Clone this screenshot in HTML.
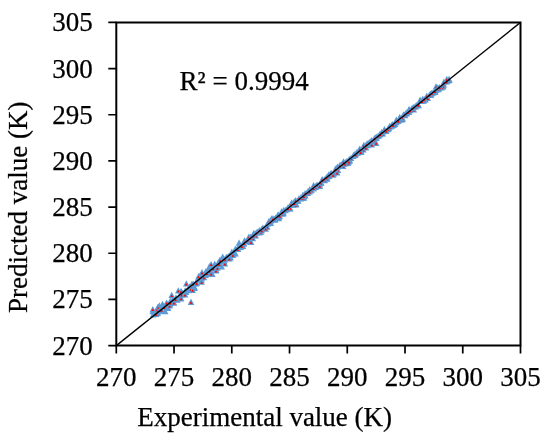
<!DOCTYPE html>
<html><head><meta charset="utf-8"><style>html,body{margin:0;padding:0;background:#fff;overflow:hidden}svg{display:block}</style></head>
<body><svg width="550" height="444" viewBox="0 0 550 444">
<rect width="550" height="444" fill="#fff"/>
<defs><filter id="b" x="-5%" y="-5%" width="110%" height="110%"><feGaussianBlur stdDeviation="0.35"/></filter></defs><g filter="url(#b)">
<path fill="#5b9bd5" d="M152.7 308.0L156.0 314.3L149.4 314.3Z"/>
<path fill="#5b9bd5" d="M153.1 311.1L156.4 317.4L149.8 317.4Z"/>
<path fill="#5b9bd5" d="M154.5 310.4L157.8 316.7L151.2 316.7Z"/>
<path fill="#5b9bd5" d="M155.0 310.6L158.3 316.9L151.7 316.9Z"/>
<path fill="#5b9bd5" d="M156.9 309.9L160.2 316.2L153.6 316.2Z"/>
<path fill="#5b9bd5" d="M158.0 309.4L161.3 315.7L154.7 315.7Z"/>
<path fill="#5b9bd5" d="M158.2 303.7L161.5 310.0L154.9 310.0Z"/>
<path fill="#5b9bd5" d="M159.4 302.3L162.7 308.6L156.1 308.6Z"/>
<path fill="#5b9bd5" d="M159.3 307.4L162.6 313.7L156.0 313.7Z"/>
<path fill="#5b9bd5" d="M161.0 307.7L164.3 314.0L157.7 314.0Z"/>
<path fill="#5b9bd5" d="M162.5 300.7L165.8 307.0L159.2 307.0Z"/>
<path fill="#5b9bd5" d="M163.7 303.1L167.0 309.4L160.4 309.4Z"/>
<path fill="#5b9bd5" d="M165.2 307.9L168.5 314.2L161.9 314.2Z"/>
<path fill="#5b9bd5" d="M165.7 301.7L169.0 308.0L162.4 308.0Z"/>
<path fill="#5b9bd5" d="M167.2 300.9L170.5 307.2L163.9 307.2Z"/>
<path fill="#5b9bd5" d="M168.4 301.4L171.7 307.7L165.1 307.7Z"/>
<path fill="#5b9bd5" d="M168.0 304.6L171.3 310.9L164.7 310.9Z"/>
<path fill="#5b9bd5" d="M170.3 297.6L173.6 303.9L167.0 303.9Z"/>
<path fill="#5b9bd5" d="M170.0 300.9L173.3 307.2L166.7 307.2Z"/>
<path fill="#5b9bd5" d="M172.4 296.8L175.7 303.1L169.1 303.1Z"/>
<path fill="#5b9bd5" d="M173.5 298.6L176.8 304.9L170.2 304.9Z"/>
<path fill="#5b9bd5" d="M173.5 296.7L176.8 303.0L170.2 303.0Z"/>
<path fill="#5b9bd5" d="M175.5 295.5L178.8 301.8L172.2 301.8Z"/>
<path fill="#5b9bd5" d="M175.9 294.6L179.2 300.9L172.6 300.9Z"/>
<path fill="#5b9bd5" d="M176.2 294.9L179.5 301.2L172.9 301.2Z"/>
<path fill="#5b9bd5" d="M177.4 296.5L180.7 302.8L174.1 302.8Z"/>
<path fill="#5b9bd5" d="M179.8 291.9L183.1 298.2L176.5 298.2Z"/>
<path fill="#5b9bd5" d="M180.2 292.4L183.5 298.7L176.9 298.7Z"/>
<path fill="#5b9bd5" d="M182.5 289.8L185.8 296.1L179.2 296.1Z"/>
<path fill="#5b9bd5" d="M182.6 290.8L185.9 297.1L179.3 297.1Z"/>
<path fill="#5b9bd5" d="M185.2 287.3L188.5 293.6L181.9 293.6Z"/>
<path fill="#5b9bd5" d="M185.4 288.2L188.7 294.5L182.1 294.5Z"/>
<path fill="#5b9bd5" d="M186.0 288.7L189.3 295.0L182.7 295.0Z"/>
<path fill="#5b9bd5" d="M187.4 286.6L190.7 292.9L184.1 292.9Z"/>
<path fill="#5b9bd5" d="M188.8 286.9L192.1 293.2L185.5 293.2Z"/>
<path fill="#5b9bd5" d="M189.6 283.2L192.9 289.5L186.3 289.5Z"/>
<path fill="#5b9bd5" d="M190.5 286.7L193.8 293.0L187.2 293.0Z"/>
<path fill="#5b9bd5" d="M192.0 280.4L195.3 286.7L188.7 286.7Z"/>
<path fill="#5b9bd5" d="M193.8 283.2L197.1 289.5L190.5 289.5Z"/>
<path fill="#5b9bd5" d="M194.3 284.6L197.6 290.9L191.0 290.9Z"/>
<path fill="#5b9bd5" d="M194.7 284.1L198.0 290.4L191.4 290.4Z"/>
<path fill="#5b9bd5" d="M196.0 280.2L199.3 286.5L192.7 286.5Z"/>
<path fill="#5b9bd5" d="M197.3 276.2L200.6 282.5L194.0 282.5Z"/>
<path fill="#5b9bd5" d="M198.5 275.6L201.8 281.9L195.2 281.9Z"/>
<path fill="#5b9bd5" d="M200.2 272.0L203.5 278.3L196.9 278.3Z"/>
<path fill="#5b9bd5" d="M201.5 273.7L204.8 280.0L198.2 280.0Z"/>
<path fill="#5b9bd5" d="M201.6 276.4L204.9 282.7L198.3 282.7Z"/>
<path fill="#5b9bd5" d="M201.8 274.3L205.1 280.6L198.5 280.6Z"/>
<path fill="#5b9bd5" d="M203.1 272.3L206.4 278.6L199.8 278.6Z"/>
<path fill="#5b9bd5" d="M205.6 271.6L208.9 277.9L202.3 277.9Z"/>
<path fill="#5b9bd5" d="M205.5 270.1L208.8 276.4L202.2 276.4Z"/>
<path fill="#5b9bd5" d="M205.9 267.9L209.2 274.2L202.6 274.2Z"/>
<path fill="#5b9bd5" d="M207.4 267.7L210.7 274.0L204.1 274.0Z"/>
<path fill="#5b9bd5" d="M209.4 263.1L212.7 269.4L206.1 269.4Z"/>
<path fill="#5b9bd5" d="M210.1 263.8L213.4 270.1L206.8 270.1Z"/>
<path fill="#5b9bd5" d="M212.3 270.7L215.6 277.0L209.0 277.0Z"/>
<path fill="#5b9bd5" d="M213.9 265.0L217.2 271.3L210.6 271.3Z"/>
<path fill="#5b9bd5" d="M214.7 260.6L218.0 266.9L211.4 266.9Z"/>
<path fill="#5b9bd5" d="M216.1 266.6L219.4 272.9L212.8 272.9Z"/>
<path fill="#5b9bd5" d="M218.2 259.3L221.5 265.6L214.9 265.6Z"/>
<path fill="#5b9bd5" d="M218.9 259.4L222.2 265.7L215.6 265.7Z"/>
<path fill="#5b9bd5" d="M219.3 258.5L222.6 264.8L216.0 264.8Z"/>
<path fill="#5b9bd5" d="M221.6 263.2L224.9 269.5L218.3 269.5Z"/>
<path fill="#5b9bd5" d="M222.6 258.0L225.9 264.3L219.3 264.3Z"/>
<path fill="#5b9bd5" d="M222.7 253.4L226.0 259.7L219.4 259.7Z"/>
<path fill="#5b9bd5" d="M224.0 257.7L227.3 264.0L220.7 264.0Z"/>
<path fill="#5b9bd5" d="M226.3 253.7L229.6 260.0L223.0 260.0Z"/>
<path fill="#5b9bd5" d="M227.2 254.5L230.5 260.8L223.9 260.8Z"/>
<path fill="#5b9bd5" d="M228.2 253.1L231.5 259.4L224.9 259.4Z"/>
<path fill="#5b9bd5" d="M229.4 252.4L232.7 258.7L226.1 258.7Z"/>
<path fill="#5b9bd5" d="M230.5 254.2L233.8 260.5L227.2 260.5Z"/>
<path fill="#5b9bd5" d="M231.8 248.5L235.1 254.8L228.5 254.8Z"/>
<path fill="#5b9bd5" d="M233.9 250.0L237.2 256.3L230.6 256.3Z"/>
<path fill="#5b9bd5" d="M235.5 250.3L238.8 256.6L232.2 256.6Z"/>
<path fill="#5b9bd5" d="M235.3 245.6L238.6 251.9L232.0 251.9Z"/>
<path fill="#5b9bd5" d="M237.5 245.5L240.8 251.8L234.2 251.8Z"/>
<path fill="#5b9bd5" d="M238.0 244.0L241.3 250.3L234.7 250.3Z"/>
<path fill="#5b9bd5" d="M239.1 239.4L242.4 245.7L235.8 245.7Z"/>
<path fill="#5b9bd5" d="M152.8 305.9L156.1 312.2L149.5 312.2Z"/><path fill="#ff0000" d="M152.8 308.6L154.2 311.1L151.4 311.1Z"/>
<path fill="#5b9bd5" d="M157.9 303.7L161.2 310.0L154.6 310.0Z"/><path fill="#ff0000" d="M157.9 306.4L159.3 308.9L156.5 308.9Z"/>
<path fill="#5b9bd5" d="M156.8 306.6L160.1 312.9L153.5 312.9Z"/><path fill="#ff0000" d="M156.8 309.3L158.2 311.8L155.4 311.8Z"/>
<path fill="#5b9bd5" d="M161.5 306.6L164.8 312.9L158.2 312.9Z"/><path fill="#ff0000" d="M161.5 309.3L162.9 311.8L160.1 311.8Z"/>
<path fill="#5b9bd5" d="M156.1 310.6L159.4 316.9L152.8 316.9Z"/><path fill="#ff0000" d="M156.1 313.3L157.5 315.8L154.7 315.8Z"/>
<path fill="#5b9bd5" d="M166.6 299.4L169.9 305.7L163.3 305.7Z"/><path fill="#ff0000" d="M166.6 302.1L168.0 304.6L165.2 304.6Z"/>
<path fill="#5b9bd5" d="M164.1 303.7L167.4 310.0L160.8 310.0Z"/><path fill="#ff0000" d="M164.1 306.4L165.5 308.9L162.7 308.9Z"/>
<path fill="#5b9bd5" d="M169.5 302.3L172.8 308.6L166.2 308.6Z"/><path fill="#ff0000" d="M169.5 305.0L170.9 307.5L168.1 307.5Z"/>
<path fill="#5b9bd5" d="M170.3 299.4L173.6 305.7L167.0 305.7Z"/><path fill="#ff0000" d="M170.3 302.1L171.7 304.6L168.9 304.6Z"/>
<path fill="#5b9bd5" d="M171.7 291.7L175.0 298.0L168.4 298.0Z"/><path fill="#ff0000" d="M171.7 294.4L173.1 296.9L170.3 296.9Z"/>
<path fill="#5b9bd5" d="M173.9 299.4L177.2 305.7L170.6 305.7Z"/><path fill="#ff0000" d="M173.9 302.1L175.3 304.6L172.5 304.6Z"/>
<path fill="#5b9bd5" d="M175.5 295.7L178.8 302.0L172.2 302.0Z"/><path fill="#ff0000" d="M175.5 298.4L176.9 300.9L174.1 300.9Z"/>
<path fill="#5b9bd5" d="M178.3 287.3L181.6 293.6L175.0 293.6Z"/><path fill="#ff0000" d="M178.3 290.0L179.7 292.5L176.9 292.5Z"/>
<path fill="#5b9bd5" d="M181.1 287.8L184.4 294.1L177.8 294.1Z"/><path fill="#ff0000" d="M181.1 290.5L182.5 293.0L179.7 293.0Z"/>
<path fill="#5b9bd5" d="M181.1 295.1L184.4 301.4L177.8 301.4Z"/><path fill="#ff0000" d="M181.1 297.8L182.5 300.3L179.7 300.3Z"/>
<path fill="#5b9bd5" d="M181.7 291.2L185.0 297.5L178.4 297.5Z"/><path fill="#ff0000" d="M181.7 293.9L183.1 296.4L180.3 296.4Z"/>
<path fill="#5b9bd5" d="M185.0 291.2L188.3 297.5L181.7 297.5Z"/><path fill="#ff0000" d="M185.0 293.9L186.4 296.4L183.6 296.4Z"/>
<path fill="#5b9bd5" d="M191.0 298.6L194.3 304.9L187.7 304.9Z"/><path fill="#ff0000" d="M191.0 301.3L192.4 303.8L189.6 303.8Z"/>
<path fill="#5b9bd5" d="M191.7 283.4L195.0 289.7L188.4 289.7Z"/><path fill="#ff0000" d="M191.7 286.1L193.1 288.6L190.3 288.6Z"/>
<path fill="#5b9bd5" d="M193.5 280.7L196.8 287.0L190.2 287.0Z"/><path fill="#ff0000" d="M193.5 283.4L194.9 285.9L192.1 285.9Z"/>
<path fill="#5b9bd5" d="M196.7 279.8L200.0 286.1L193.4 286.1Z"/><path fill="#ff0000" d="M196.7 282.5L198.1 285.0L195.3 285.0Z"/>
<path fill="#5b9bd5" d="M198.5 273.1L201.8 279.4L195.2 279.4Z"/><path fill="#ff0000" d="M198.5 275.8L199.9 278.3L197.1 278.3Z"/>
<path fill="#5b9bd5" d="M202.0 269.0L205.3 275.3L198.7 275.3Z"/><path fill="#ff0000" d="M202.0 271.7L203.4 274.2L200.6 274.2Z"/>
<path fill="#5b9bd5" d="M203.9 274.0L207.2 280.3L200.6 280.3Z"/><path fill="#ff0000" d="M203.9 276.7L205.3 279.2L202.5 279.2Z"/>
<path fill="#5b9bd5" d="M201.6 278.5L204.9 284.8L198.3 284.8Z"/><path fill="#ff0000" d="M201.6 281.2L203.0 283.7L200.2 283.7Z"/>
<path fill="#5b9bd5" d="M207.0 269.9L210.3 276.2L203.7 276.2Z"/><path fill="#ff0000" d="M207.0 272.6L208.4 275.1L205.6 275.1Z"/>
<path fill="#5b9bd5" d="M210.2 267.7L213.5 274.0L206.9 274.0Z"/><path fill="#ff0000" d="M210.2 270.4L211.6 272.9L208.8 272.9Z"/>
<path fill="#5b9bd5" d="M211.1 270.4L214.4 276.7L207.8 276.7Z"/><path fill="#ff0000" d="M211.1 273.1L212.5 275.6L209.7 275.6Z"/>
<path fill="#5b9bd5" d="M211.1 260.9L214.4 267.2L207.8 267.2Z"/><path fill="#ff0000" d="M211.1 263.6L212.5 266.1L209.7 266.1Z"/>
<path fill="#5b9bd5" d="M213.3 265.0L216.6 271.3L210.0 271.3Z"/><path fill="#ff0000" d="M213.3 267.7L214.7 270.2L211.9 270.2Z"/>
<path fill="#5b9bd5" d="M216.0 267.2L219.3 273.5L212.7 273.5Z"/><path fill="#ff0000" d="M216.0 269.9L217.4 272.4L214.6 272.4Z"/>
<path fill="#5b9bd5" d="M217.4 264.5L220.7 270.8L214.1 270.8Z"/><path fill="#ff0000" d="M217.4 267.2L218.8 269.7L216.0 269.7Z"/>
<path fill="#5b9bd5" d="M219.2 260.9L222.5 267.2L215.9 267.2Z"/><path fill="#ff0000" d="M219.2 263.6L220.6 266.1L217.8 266.1Z"/>
<path fill="#5b9bd5" d="M186.3 280.3L189.6 286.6L183.0 286.6Z"/><path fill="#ff0000" d="M186.3 283.0L187.7 285.5L184.9 285.5Z"/>
<path fill="#5b9bd5" d="M190.8 285.7L194.1 292.0L187.5 292.0Z"/><path fill="#ff0000" d="M190.8 288.4L192.2 290.9L189.4 290.9Z"/>
<path fill="#5b9bd5" d="M192.6 286.6L195.9 292.9L189.3 292.9Z"/><path fill="#ff0000" d="M192.6 289.3L194.0 291.8L191.2 291.8Z"/>
<path fill="#5b9bd5" d="M220.0 256.6L223.3 262.9L216.7 262.9Z"/><path fill="#ff0000" d="M220.0 259.3L221.4 261.8L218.6 261.8Z"/>
<path fill="#5b9bd5" d="M224.9 256.1L228.2 262.4L221.6 262.4Z"/><path fill="#ff0000" d="M224.9 258.8L226.3 261.3L223.5 261.3Z"/>
<path fill="#5b9bd5" d="M224.9 260.2L228.2 266.5L221.6 266.5Z"/><path fill="#ff0000" d="M224.9 262.9L226.3 265.4L223.5 265.4Z"/>
<path fill="#5b9bd5" d="M229.4 255.2L232.7 261.5L226.1 261.5Z"/><path fill="#ff0000" d="M229.4 257.9L230.8 260.4L228.0 260.4Z"/>
<path fill="#5b9bd5" d="M233.0 251.6L236.3 257.9L229.7 257.9Z"/><path fill="#ff0000" d="M233.0 254.3L234.4 256.8L231.6 256.8Z"/>
<path fill="#5b9bd5" d="M238.0 245.8L241.3 252.1L234.7 252.1Z"/><path fill="#ff0000" d="M238.0 248.5L239.4 251.0L236.6 251.0Z"/>
<path fill="#5b9bd5" d="M426.8 92.4L430.1 98.7L423.5 98.7Z"/><path fill="#ff0000" d="M426.8 95.1L428.2 97.6L425.4 97.6Z"/>
<path fill="#5b9bd5" d="M406.2 109.2L409.5 115.5L402.9 115.5Z"/><path fill="#ff0000" d="M406.2 111.9L407.6 114.4L404.8 114.4Z"/>
<path fill="#5b9bd5" d="M392.1 122.5L395.4 128.8L388.8 128.8Z"/><path fill="#ff0000" d="M392.1 125.2L393.5 127.7L390.7 127.7Z"/>
<path fill="#5b9bd5" d="M393.6 121.8L396.9 128.1L390.3 128.1Z"/><path fill="#ff0000" d="M393.6 124.5L395.0 127.0L392.2 127.0Z"/>
<path fill="#5b9bd5" d="M347.8 157.9L351.1 164.2L344.5 164.2Z"/><path fill="#ff0000" d="M347.8 160.6L349.2 163.1L346.4 163.1Z"/>
<path fill="#5b9bd5" d="M414.0 103.5L417.3 109.8L410.7 109.8Z"/><path fill="#ff0000" d="M414.0 106.2L415.4 108.7L412.6 108.7Z"/>
<path fill="#5b9bd5" d="M300.9 194.3L304.2 200.6L297.6 200.6Z"/><path fill="#ff0000" d="M300.9 197.0L302.3 199.5L299.5 199.5Z"/>
<path fill="#5b9bd5" d="M309.8 185.9L313.1 192.2L306.5 192.2Z"/><path fill="#ff0000" d="M309.8 188.6L311.2 191.1L308.4 191.1Z"/>
<path fill="#5b9bd5" d="M357.6 149.4L360.9 155.7L354.3 155.7Z"/><path fill="#ff0000" d="M357.6 152.1L359.0 154.6L356.2 154.6Z"/>
<path fill="#5b9bd5" d="M292.7 200.8L296.0 207.1L289.4 207.1Z"/><path fill="#ff0000" d="M292.7 203.5L294.1 206.0L291.3 206.0Z"/>
<path fill="#5b9bd5" d="M423.6 97.5L426.9 103.8L420.3 103.8Z"/><path fill="#ff0000" d="M423.6 100.2L425.0 102.7L422.2 102.7Z"/>
<path fill="#5b9bd5" d="M278.8 214.9L282.1 221.2L275.5 221.2Z"/><path fill="#ff0000" d="M278.8 217.6L280.2 220.1L277.4 220.1Z"/>
<path fill="#5b9bd5" d="M425.4 96.1L428.7 102.4L422.1 102.4Z"/><path fill="#ff0000" d="M425.4 98.8L426.8 101.3L424.0 101.3Z"/>
<path fill="#5b9bd5" d="M251.8 233.4L255.1 239.7L248.5 239.7Z"/><path fill="#ff0000" d="M251.8 236.1L253.2 238.6L250.4 238.6Z"/>
<path fill="#5b9bd5" d="M384.4 126.1L387.7 132.4L381.1 132.4Z"/><path fill="#ff0000" d="M384.4 128.8L385.8 131.3L383.0 131.3Z"/>
<path fill="#5b9bd5" d="M319.5 181.9L322.8 188.2L316.2 188.2Z"/><path fill="#ff0000" d="M319.5 184.6L320.9 187.1L318.1 187.1Z"/>
<path fill="#5b9bd5" d="M403.5 111.2L406.8 117.5L400.2 117.5Z"/><path fill="#ff0000" d="M403.5 113.9L404.9 116.4L402.1 116.4Z"/>
<path fill="#5b9bd5" d="M367.5 142.0L370.8 148.3L364.2 148.3Z"/><path fill="#ff0000" d="M367.5 144.7L368.9 147.2L366.1 147.2Z"/>
<path fill="#5b9bd5" d="M340.5 161.8L343.8 168.1L337.2 168.1Z"/><path fill="#ff0000" d="M340.5 164.5L341.9 167.0L339.1 167.0Z"/>
<path fill="#5b9bd5" d="M266.2 223.0L269.5 229.3L262.9 229.3Z"/><path fill="#ff0000" d="M266.2 225.7L267.6 228.2L264.8 228.2Z"/>
<path fill="#5b9bd5" d="M396.5 117.8L399.8 124.1L393.2 124.1Z"/><path fill="#ff0000" d="M396.5 120.5L397.9 123.0L395.1 123.0Z"/>
<path fill="#5b9bd5" d="M283.8 206.8L287.1 213.1L280.5 213.1Z"/><path fill="#ff0000" d="M283.8 209.5L285.2 212.0L282.4 212.0Z"/>
<path fill="#5b9bd5" d="M361.4 148.3L364.7 154.6L358.1 154.6Z"/><path fill="#ff0000" d="M361.4 151.0L362.8 153.5L360.0 153.5Z"/>
<path fill="#5b9bd5" d="M430.8 91.7L434.1 98.0L427.5 98.0Z"/><path fill="#ff0000" d="M430.8 94.4L432.2 96.9L429.4 96.9Z"/>
<path fill="#5b9bd5" d="M449.4 76.8L452.7 83.1L446.1 83.1Z"/><path fill="#ff0000" d="M449.4 79.5L450.8 82.0L448.0 82.0Z"/>
<path fill="#5b9bd5" d="M448.3 77.3L451.6 83.6L445.0 83.6Z"/><path fill="#ff0000" d="M448.3 80.0L449.7 82.5L446.9 82.5Z"/>
<path fill="#5b9bd5" d="M376.5 134.8L379.8 141.1L373.2 141.1Z"/><path fill="#ff0000" d="M376.5 137.5L377.9 140.0L375.1 140.0Z"/>
<path fill="#5b9bd5" d="M412.6 105.6L415.9 111.9L409.3 111.9Z"/><path fill="#ff0000" d="M412.6 108.3L414.0 110.8L411.2 110.8Z"/>
<path fill="#5b9bd5" d="M327.2 175.5L330.5 181.8L323.9 181.8Z"/><path fill="#ff0000" d="M327.2 178.2L328.6 180.7L325.8 180.7Z"/>
<path fill="#5b9bd5" d="M337.5 163.5L340.8 169.8L334.2 169.8Z"/><path fill="#ff0000" d="M337.5 166.2L338.9 168.7L336.1 168.7Z"/>
<path fill="#5b9bd5" d="M283.2 208.4L286.5 214.7L279.9 214.7Z"/><path fill="#ff0000" d="M283.2 211.1L284.6 213.6L281.8 213.6Z"/>
<path fill="#5b9bd5" d="M365.3 143.0L368.6 149.3L362.0 149.3Z"/><path fill="#ff0000" d="M365.3 145.7L366.7 148.2L363.9 148.2Z"/>
<path fill="#5b9bd5" d="M262.9 224.4L266.2 230.7L259.6 230.7Z"/><path fill="#ff0000" d="M262.9 227.1L264.3 229.6L261.5 229.6Z"/>
<path fill="#5b9bd5" d="M442.8 81.2L446.1 87.5L439.5 87.5Z"/><path fill="#ff0000" d="M442.8 83.9L444.2 86.4L441.4 86.4Z"/>
<path fill="#5b9bd5" d="M383.7 128.0L387.0 134.3L380.4 134.3Z"/><path fill="#ff0000" d="M383.7 130.7L385.1 133.2L382.3 133.2Z"/>
<path fill="#5b9bd5" d="M409.1 105.8L412.4 112.1L405.8 112.1Z"/><path fill="#ff0000" d="M409.1 108.5L410.5 111.0L407.7 111.0Z"/>
<path fill="#5b9bd5" d="M335.7 166.2L339.0 172.5L332.4 172.5Z"/><path fill="#ff0000" d="M335.7 168.9L337.1 171.4L334.3 171.4Z"/>
<path fill="#5b9bd5" d="M315.5 183.0L318.8 189.3L312.2 189.3Z"/><path fill="#ff0000" d="M315.5 185.7L316.9 188.2L314.1 188.2Z"/>
<path fill="#5b9bd5" d="M438.4 84.7L441.7 91.0L435.1 91.0Z"/><path fill="#ff0000" d="M438.4 87.4L439.8 89.9L437.0 89.9Z"/>
<path fill="#5b9bd5" d="M314.2 183.2L317.5 189.5L310.9 189.5Z"/><path fill="#ff0000" d="M314.2 185.9L315.6 188.4L312.8 188.4Z"/>
<path fill="#5b9bd5" d="M366.1 141.8L369.4 148.1L362.8 148.1Z"/><path fill="#ff0000" d="M366.1 144.5L367.5 147.0L364.7 147.0Z"/>
<path fill="#5b9bd5" d="M435.3 88.6L438.6 94.9L432.0 94.9Z"/><path fill="#ff0000" d="M435.3 91.3L436.7 93.8L433.9 93.8Z"/>
<path fill="#5b9bd5" d="M324.4 176.4L327.7 182.7L321.1 182.7Z"/><path fill="#ff0000" d="M324.4 179.1L325.8 181.6L323.0 181.6Z"/>
<path fill="#5b9bd5" d="M436.9 83.7L440.2 90.0L433.6 90.0Z"/><path fill="#ff0000" d="M436.9 86.4L438.3 88.9L435.5 88.9Z"/>
<path fill="#5b9bd5" d="M388.3 125.4L391.6 131.7L385.0 131.7Z"/><path fill="#ff0000" d="M388.3 128.1L389.7 130.6L386.9 130.6Z"/>
<path fill="#5b9bd5" d="M345.2 160.0L348.5 166.3L341.9 166.3Z"/><path fill="#ff0000" d="M345.2 162.7L346.6 165.2L343.8 165.2Z"/>
<path fill="#5b9bd5" d="M331.6 169.9L334.9 176.2L328.3 176.2Z"/><path fill="#ff0000" d="M331.6 172.6L333.0 175.1L330.2 175.1Z"/>
<path fill="#5b9bd5" d="M311.5 186.9L314.8 193.2L308.2 193.2Z"/><path fill="#ff0000" d="M311.5 189.6L312.9 192.1L310.1 192.1Z"/>
<path fill="#5b9bd5" d="M331.5 170.7L334.8 177.0L328.2 177.0Z"/><path fill="#ff0000" d="M331.5 173.4L332.9 175.9L330.1 175.9Z"/>
<path fill="#5b9bd5" d="M295.7 199.8L299.0 206.1L292.4 206.1Z"/><path fill="#ff0000" d="M295.7 202.5L297.1 205.0L294.3 205.0Z"/>
<path fill="#5b9bd5" d="M416.2 101.9L419.5 108.2L412.9 108.2Z"/><path fill="#ff0000" d="M416.2 104.6L417.6 107.1L414.8 107.1Z"/>
<path fill="#5b9bd5" d="M343.1 162.6L346.4 168.9L339.8 168.9Z"/><path fill="#ff0000" d="M343.1 165.3L344.5 167.8L341.7 167.8Z"/>
<path fill="#5b9bd5" d="M313.4 184.9L316.7 191.2L310.1 191.2Z"/><path fill="#ff0000" d="M313.4 187.6L314.8 190.1L312.0 190.1Z"/>
<path fill="#5b9bd5" d="M249.2 235.2L252.5 241.5L245.9 241.5Z"/><path fill="#ff0000" d="M249.2 237.9L250.6 240.4L247.8 240.4Z"/>
<path fill="#5b9bd5" d="M316.6 182.0L319.9 188.3L313.3 188.3Z"/><path fill="#ff0000" d="M316.6 184.7L318.0 187.2L315.2 187.2Z"/>
<path fill="#5b9bd5" d="M315.8 183.7L319.1 190.0L312.5 190.0Z"/><path fill="#ff0000" d="M315.8 186.4L317.2 188.9L314.4 188.9Z"/>
<path fill="#5b9bd5" d="M443.8 81.3L447.1 87.6L440.5 87.6Z"/><path fill="#ff0000" d="M443.8 84.0L445.2 86.5L442.4 86.5Z"/>
<path fill="#5b9bd5" d="M367.5 140.3L370.8 146.6L364.2 146.6Z"/><path fill="#ff0000" d="M367.5 143.0L368.9 145.5L366.1 145.5Z"/>
<path fill="#5b9bd5" d="M291.8 199.2L295.1 205.5L288.5 205.5Z"/><path fill="#ff0000" d="M291.8 201.9L293.2 204.4L290.4 204.4Z"/>
<path fill="#5b9bd5" d="M363.3 146.2L366.6 152.5L360.0 152.5Z"/><path fill="#ff0000" d="M363.3 148.9L364.7 151.4L361.9 151.4Z"/>
<path fill="#5b9bd5" d="M283.5 210.0L286.8 216.3L280.2 216.3Z"/><path fill="#ff0000" d="M283.5 212.7L284.9 215.2L282.1 215.2Z"/>
<path fill="#5b9bd5" d="M349.9 157.2L353.2 163.5L346.6 163.5Z"/><path fill="#ff0000" d="M349.9 159.9L351.3 162.4L348.5 162.4Z"/>
<path fill="#5b9bd5" d="M343.9 159.3L347.2 165.6L340.6 165.6Z"/><path fill="#ff0000" d="M343.9 162.0L345.3 164.5L342.5 164.5Z"/>
<path fill="#5b9bd5" d="M328.8 171.2L332.1 177.5L325.5 177.5Z"/><path fill="#ff0000" d="M328.8 173.9L330.2 176.4L327.4 176.4Z"/>
<path fill="#5b9bd5" d="M244.5 237.3L247.8 243.6L241.2 243.6Z"/><path fill="#ff0000" d="M244.5 240.0L245.9 242.5L243.1 242.5Z"/>
<path fill="#5b9bd5" d="M388.9 124.6L392.2 130.9L385.6 130.9Z"/><path fill="#ff0000" d="M388.9 127.3L390.3 129.8L387.5 129.8Z"/>
<path fill="#5b9bd5" d="M308.1 187.8L311.4 194.1L304.8 194.1Z"/><path fill="#ff0000" d="M308.1 190.5L309.5 193.0L306.7 193.0Z"/>
<path fill="#5b9bd5" d="M359.7 145.5L363.0 151.8L356.4 151.8Z"/><path fill="#ff0000" d="M359.7 148.2L361.1 150.7L358.3 150.7Z"/>
<path fill="#5b9bd5" d="M368.8 139.8L372.1 146.1L365.5 146.1Z"/><path fill="#ff0000" d="M368.8 142.5L370.2 145.0L367.4 145.0Z"/>
<path fill="#5b9bd5" d="M444.0 78.4L447.3 84.7L440.7 84.7Z"/><path fill="#ff0000" d="M444.0 81.1L445.4 83.6L442.6 83.6Z"/>
<path fill="#5b9bd5" d="M267.6 220.4L270.9 226.7L264.3 226.7Z"/><path fill="#ff0000" d="M267.6 223.1L269.0 225.6L266.2 225.6Z"/>
<path fill="#5b9bd5" d="M371.7 137.7L375.0 144.0L368.4 144.0Z"/><path fill="#ff0000" d="M371.7 140.4L373.1 142.9L370.3 142.9Z"/>
<path fill="#5b9bd5" d="M351.0 154.7L354.3 161.0L347.7 161.0Z"/><path fill="#ff0000" d="M351.0 157.4L352.4 159.9L349.6 159.9Z"/>
<path fill="#5b9bd5" d="M392.2 120.9L395.5 127.2L388.9 127.2Z"/><path fill="#ff0000" d="M392.2 123.6L393.6 126.1L390.8 126.1Z"/>
<path fill="#5b9bd5" d="M304.0 194.5L307.3 200.8L300.7 200.8Z"/><path fill="#ff0000" d="M304.0 197.2L305.4 199.7L302.6 199.7Z"/>
<path fill="#5b9bd5" d="M430.4 90.4L433.7 96.7L427.1 96.7Z"/><path fill="#ff0000" d="M430.4 93.1L431.8 95.6L429.0 95.6Z"/>
<path fill="#5b9bd5" d="M381.8 129.9L385.1 136.2L378.5 136.2Z"/><path fill="#ff0000" d="M381.8 132.6L383.2 135.1L380.4 135.1Z"/>
<path fill="#5b9bd5" d="M356.9 149.1L360.2 155.4L353.6 155.4Z"/><path fill="#ff0000" d="M356.9 151.8L358.3 154.3L355.5 154.3Z"/>
<path fill="#5b9bd5" d="M250.3 233.6L253.6 239.9L247.0 239.9Z"/><path fill="#ff0000" d="M250.3 236.3L251.7 238.8L248.9 238.8Z"/>
<path fill="#5b9bd5" d="M357.4 148.9L360.7 155.2L354.1 155.2Z"/><path fill="#ff0000" d="M357.4 151.6L358.8 154.1L356.0 154.1Z"/>
<path fill="#5b9bd5" d="M418.3 101.9L421.6 108.2L415.0 108.2Z"/><path fill="#ff0000" d="M418.3 104.6L419.7 107.1L416.9 107.1Z"/>
<path fill="#5b9bd5" d="M370.2 138.1L373.5 144.4L366.9 144.4Z"/><path fill="#ff0000" d="M370.2 140.8L371.6 143.3L368.8 143.3Z"/>
<path fill="#5b9bd5" d="M415.7 103.3L419.0 109.6L412.4 109.6Z"/><path fill="#ff0000" d="M415.7 106.0L417.1 108.5L414.3 108.5Z"/>
<path fill="#5b9bd5" d="M319.5 180.7L322.8 187.0L316.2 187.0Z"/><path fill="#ff0000" d="M319.5 183.4L320.9 185.9L318.1 185.9Z"/>
<path fill="#5b9bd5" d="M261.7 225.7L265.0 232.0L258.4 232.0Z"/><path fill="#ff0000" d="M261.7 228.4L263.1 230.9L260.3 230.9Z"/>
<path fill="#5b9bd5" d="M436.0 83.2L439.3 89.5L432.7 89.5Z"/><path fill="#ff0000" d="M436.0 85.9L437.4 88.4L434.6 88.4Z"/>
<path fill="#5b9bd5" d="M306.8 189.8L310.1 196.1L303.5 196.1Z"/><path fill="#ff0000" d="M306.8 192.5L308.2 195.0L305.4 195.0Z"/>
<path fill="#5b9bd5" d="M313.5 182.1L316.8 188.4L310.2 188.4Z"/><path fill="#ff0000" d="M313.5 184.8L314.9 187.3L312.1 187.3Z"/>
<path fill="#5b9bd5" d="M264.8 224.8L268.1 231.1L261.5 231.1Z"/><path fill="#ff0000" d="M264.8 227.5L266.2 230.0L263.4 230.0Z"/>
<path fill="#5b9bd5" d="M436.2 86.7L439.5 93.0L432.9 93.0Z"/><path fill="#ff0000" d="M436.2 89.4L437.6 91.9L434.8 91.9Z"/>
<path fill="#5b9bd5" d="M396.3 116.6L399.6 122.9L393.0 122.9Z"/><path fill="#ff0000" d="M396.3 119.3L397.7 121.8L394.9 121.8Z"/>
<path fill="#5b9bd5" d="M373.8 137.3L377.1 143.6L370.5 143.6Z"/><path fill="#ff0000" d="M373.8 140.0L375.2 142.5L372.4 142.5Z"/>
<path fill="#5b9bd5" d="M420.1 96.6L423.4 102.9L416.8 102.9Z"/><path fill="#ff0000" d="M420.1 99.3L421.5 101.8L418.7 101.8Z"/>
<path fill="#5b9bd5" d="M330.5 170.2L333.8 176.5L327.2 176.5Z"/><path fill="#ff0000" d="M330.5 172.9L331.9 175.4L329.1 175.4Z"/>
<path fill="#5b9bd5" d="M343.4 160.2L346.7 166.5L340.1 166.5Z"/><path fill="#ff0000" d="M343.4 162.9L344.8 165.4L342.0 165.4Z"/>
<path fill="#5b9bd5" d="M396.4 119.0L399.7 125.3L393.1 125.3Z"/><path fill="#ff0000" d="M396.4 121.7L397.8 124.2L395.0 124.2Z"/>
<path fill="#5b9bd5" d="M246.2 237.9L249.5 244.2L242.9 244.2Z"/><path fill="#ff0000" d="M246.2 240.6L247.6 243.1L244.8 243.1Z"/>
<path fill="#5b9bd5" d="M375.4 134.3L378.7 140.6L372.1 140.6Z"/><path fill="#ff0000" d="M375.4 137.0L376.8 139.5L374.0 139.5Z"/>
<path fill="#5b9bd5" d="M293.2 201.5L296.5 207.8L289.9 207.8Z"/><path fill="#ff0000" d="M293.2 204.2L294.6 206.7L291.8 206.7Z"/>
<path fill="#5b9bd5" d="M259.5 229.3L262.8 235.6L256.2 235.6Z"/><path fill="#ff0000" d="M259.5 232.0L260.9 234.5L258.1 234.5Z"/>
<path fill="#5b9bd5" d="M288.1 204.1L291.4 210.4L284.8 210.4Z"/><path fill="#ff0000" d="M288.1 206.8L289.5 209.3L286.7 209.3Z"/>
<path fill="#5b9bd5" d="M300.9 195.3L304.2 201.6L297.6 201.6Z"/><path fill="#ff0000" d="M300.9 198.0L302.3 200.5L299.5 200.5Z"/>
<path fill="#5b9bd5" d="M240.3 243.6L243.6 249.9L237.0 249.9Z"/><path fill="#ff0000" d="M240.3 246.3L241.7 248.8L238.9 248.8Z"/>
<path fill="#5b9bd5" d="M294.3 198.1L297.6 204.4L291.0 204.4Z"/><path fill="#ff0000" d="M294.3 200.8L295.7 203.3L292.9 203.3Z"/>
<path fill="#5b9bd5" d="M422.8 95.5L426.1 101.8L419.5 101.8Z"/><path fill="#ff0000" d="M422.8 98.2L424.2 100.7L421.4 100.7Z"/>
<path fill="#5b9bd5" d="M371.8 137.0L375.1 143.3L368.5 143.3Z"/><path fill="#ff0000" d="M371.8 139.7L373.2 142.2L370.4 142.2Z"/>
<path fill="#5b9bd5" d="M296.1 201.2L299.4 207.5L292.8 207.5Z"/><path fill="#ff0000" d="M296.1 203.9L297.5 206.4L294.7 206.4Z"/>
<path fill="#5b9bd5" d="M353.3 152.6L356.6 158.9L350.0 158.9Z"/><path fill="#ff0000" d="M353.3 155.3L354.7 157.8L351.9 157.8Z"/>
<path fill="#5b9bd5" d="M271.6 215.3L274.9 221.6L268.3 221.6Z"/><path fill="#ff0000" d="M271.6 218.0L273.0 220.5L270.2 220.5Z"/>
<path fill="#5b9bd5" d="M285.2 206.9L288.5 213.2L281.9 213.2Z"/><path fill="#ff0000" d="M285.2 209.6L286.6 212.1L283.8 212.1Z"/>
<path fill="#5b9bd5" d="M305.2 192.1L308.5 198.4L301.9 198.4Z"/><path fill="#ff0000" d="M305.2 194.8L306.6 197.3L303.8 197.3Z"/>
<path fill="#5b9bd5" d="M298.2 197.5L301.5 203.8L294.9 203.8Z"/><path fill="#ff0000" d="M298.2 200.2L299.6 202.7L296.8 202.7Z"/>
<path fill="#5b9bd5" d="M405.0 112.0L408.3 118.3L401.7 118.3Z"/><path fill="#ff0000" d="M405.0 114.7L406.4 117.2L403.6 117.2Z"/>
<path fill="#5b9bd5" d="M269.0 217.8L272.3 224.1L265.7 224.1Z"/><path fill="#ff0000" d="M269.0 220.5L270.4 223.0L267.6 223.0Z"/>
<path fill="#5b9bd5" d="M360.7 147.4L364.0 153.7L357.4 153.7Z"/><path fill="#ff0000" d="M360.7 150.1L362.1 152.6L359.3 152.6Z"/>
<path fill="#5b9bd5" d="M333.9 170.3L337.2 176.6L330.6 176.6Z"/><path fill="#ff0000" d="M333.9 173.0L335.3 175.5L332.5 175.5Z"/>
<path fill="#5b9bd5" d="M247.7 236.3L251.0 242.6L244.4 242.6Z"/><path fill="#ff0000" d="M247.7 239.0L249.1 241.5L246.3 241.5Z"/>
<path fill="#5b9bd5" d="M270.0 219.3L273.3 225.6L266.7 225.6Z"/><path fill="#ff0000" d="M270.0 222.0L271.4 224.5L268.6 224.5Z"/>
<path fill="#5b9bd5" d="M322.9 176.8L326.2 183.1L319.6 183.1Z"/><path fill="#ff0000" d="M322.9 179.5L324.3 182.0L321.5 182.0Z"/>
<path fill="#5b9bd5" d="M401.1 116.1L404.4 122.4L397.8 122.4Z"/><path fill="#ff0000" d="M401.1 118.8L402.5 121.3L399.7 121.3Z"/>
<path fill="#5b9bd5" d="M313.5 184.9L316.8 191.2L310.2 191.2Z"/><path fill="#ff0000" d="M313.5 187.6L314.9 190.1L312.1 190.1Z"/>
<path fill="#5b9bd5" d="M402.6 116.0L405.9 122.3L399.3 122.3Z"/><path fill="#ff0000" d="M402.6 118.7L404.0 121.2L401.2 121.2Z"/>
<path fill="#5b9bd5" d="M302.4 194.6L305.7 200.9L299.1 200.9Z"/><path fill="#ff0000" d="M302.4 197.3L303.8 199.8L301.0 199.8Z"/>
<path fill="#5b9bd5" d="M333.1 171.5L336.4 177.8L329.8 177.8Z"/><path fill="#ff0000" d="M333.1 174.2L334.5 176.7L331.7 176.7Z"/>
<path fill="#5b9bd5" d="M355.1 150.5L358.4 156.8L351.8 156.8Z"/><path fill="#ff0000" d="M355.1 153.2L356.5 155.7L353.7 155.7Z"/>
<path fill="#5b9bd5" d="M346.2 158.1L349.5 164.4L342.9 164.4Z"/><path fill="#ff0000" d="M346.2 160.8L347.6 163.3L344.8 163.3Z"/>
<path fill="#5b9bd5" d="M376.1 139.6L379.4 145.9L372.8 145.9Z"/><path fill="#ff0000" d="M376.1 142.3L377.5 144.8L374.7 144.8Z"/>
<path fill="#5b9bd5" d="M433.3 89.2L436.6 95.5L430.0 95.5Z"/><path fill="#ff0000" d="M433.3 91.9L434.7 94.4L431.9 94.4Z"/>
<path fill="#5b9bd5" d="M308.0 189.4L311.3 195.7L304.7 195.7Z"/><path fill="#ff0000" d="M308.0 192.1L309.4 194.6L306.6 194.6Z"/>
<path fill="#5b9bd5" d="M294.3 199.8L297.6 206.1L291.0 206.1Z"/><path fill="#ff0000" d="M294.3 202.5L295.7 205.0L292.9 205.0Z"/>
<path fill="#5b9bd5" d="M270.7 219.8L274.0 226.1L267.4 226.1Z"/><path fill="#ff0000" d="M270.7 222.5L272.1 225.0L269.3 225.0Z"/>
<path fill="#5b9bd5" d="M254.0 230.2L257.3 236.5L250.7 236.5Z"/><path fill="#ff0000" d="M254.0 232.9L255.4 235.4L252.6 235.4Z"/>
<path fill="#5b9bd5" d="M275.6 214.4L278.9 220.7L272.3 220.7Z"/><path fill="#ff0000" d="M275.6 217.1L277.0 219.6L274.2 219.6Z"/>
<path fill="#5b9bd5" d="M321.3 179.4L324.6 185.7L318.0 185.7Z"/><path fill="#ff0000" d="M321.3 182.1L322.7 184.6L319.9 184.6Z"/>
<path fill="#5b9bd5" d="M360.7 148.8L364.0 155.1L357.4 155.1Z"/><path fill="#ff0000" d="M360.7 151.5L362.1 154.0L359.3 154.0Z"/>
<path fill="#5b9bd5" d="M243.8 240.5L247.1 246.8L240.5 246.8Z"/><path fill="#ff0000" d="M243.8 243.2L245.2 245.7L242.4 245.7Z"/>
<path fill="#5b9bd5" d="M320.6 179.5L323.9 185.8L317.3 185.8Z"/><path fill="#ff0000" d="M320.6 182.2L322.0 184.7L319.2 184.7Z"/>
<path fill="#5b9bd5" d="M431.4 90.1L434.7 96.4L428.1 96.4Z"/><path fill="#ff0000" d="M431.4 92.8L432.8 95.3L430.0 95.3Z"/>
<path fill="#5b9bd5" d="M317.8 181.6L321.1 187.9L314.5 187.9Z"/><path fill="#ff0000" d="M317.8 184.3L319.2 186.8L316.4 186.8Z"/>
<path fill="#5b9bd5" d="M270.1 218.9L273.4 225.2L266.8 225.2Z"/><path fill="#ff0000" d="M270.1 221.6L271.5 224.1L268.7 224.1Z"/>
<path fill="#5b9bd5" d="M303.0 191.5L306.3 197.8L299.7 197.8Z"/><path fill="#ff0000" d="M303.0 194.2L304.4 196.7L301.6 196.7Z"/>
<path fill="#5b9bd5" d="M240.8 243.8L244.1 250.1L237.5 250.1Z"/><path fill="#ff0000" d="M240.8 246.5L242.2 249.0L239.4 249.0Z"/>
<path fill="#5b9bd5" d="M329.2 172.7L332.5 179.0L325.9 179.0Z"/><path fill="#ff0000" d="M329.2 175.4L330.6 177.9L327.8 177.9Z"/>
<path fill="#5b9bd5" d="M377.1 133.0L380.4 139.3L373.8 139.3Z"/><path fill="#ff0000" d="M377.1 135.7L378.5 138.2L375.7 138.2Z"/>
<path fill="#5b9bd5" d="M413.8 106.3L417.1 112.6L410.5 112.6Z"/><path fill="#ff0000" d="M413.8 109.0L415.2 111.5L412.4 111.5Z"/>
<path fill="#5b9bd5" d="M275.2 216.2L278.5 222.5L271.9 222.5Z"/><path fill="#ff0000" d="M275.2 218.9L276.6 221.4L273.8 221.4Z"/>
<path fill="#5b9bd5" d="M299.0 194.9L302.3 201.2L295.7 201.2Z"/><path fill="#ff0000" d="M299.0 197.6L300.4 200.1L297.6 200.1Z"/>
<path fill="#5b9bd5" d="M248.8 233.6L252.1 239.9L245.5 239.9Z"/><path fill="#ff0000" d="M248.8 236.3L250.2 238.8L247.4 238.8Z"/>
<path fill="#5b9bd5" d="M336.2 164.9L339.5 171.2L332.9 171.2Z"/><path fill="#ff0000" d="M336.2 167.6L337.6 170.1L334.8 170.1Z"/>
<path fill="#5b9bd5" d="M278.1 211.3L281.4 217.6L274.8 217.6Z"/><path fill="#ff0000" d="M278.1 214.0L279.5 216.5L276.7 216.5Z"/>
<path fill="#5b9bd5" d="M274.4 216.0L277.7 222.3L271.1 222.3Z"/><path fill="#ff0000" d="M274.4 218.7L275.8 221.2L273.0 221.2Z"/>
<path fill="#5b9bd5" d="M290.8 201.1L294.1 207.4L287.5 207.4Z"/><path fill="#ff0000" d="M290.8 203.8L292.2 206.3L289.4 206.3Z"/>
<path fill="#5b9bd5" d="M327.5 173.2L330.8 179.5L324.2 179.5Z"/><path fill="#ff0000" d="M327.5 175.9L328.9 178.4L326.1 178.4Z"/>
<path fill="#5b9bd5" d="M252.8 235.0L256.1 241.3L249.5 241.3Z"/><path fill="#ff0000" d="M252.8 237.7L254.2 240.2L251.4 240.2Z"/>
<path fill="#5b9bd5" d="M286.3 206.2L289.6 212.5L283.0 212.5Z"/><path fill="#ff0000" d="M286.3 208.9L287.7 211.4L284.9 211.4Z"/>
<path fill="#5b9bd5" d="M446.7 78.2L450.0 84.5L443.4 84.5Z"/><path fill="#ff0000" d="M446.7 80.9L448.1 83.4L445.3 83.4Z"/>
<path fill="#5b9bd5" d="M374.4 135.0L377.7 141.3L371.1 141.3Z"/><path fill="#ff0000" d="M374.4 137.7L375.8 140.2L373.0 140.2Z"/>
<path fill="#5b9bd5" d="M449.0 75.8L452.3 82.1L445.7 82.1Z"/><path fill="#ff0000" d="M449.0 78.5L450.4 81.0L447.6 81.0Z"/>
<path fill="#5b9bd5" d="M282.4 210.4L285.7 216.7L279.1 216.7Z"/><path fill="#ff0000" d="M282.4 213.1L283.8 215.6L281.0 215.6Z"/>
<path fill="#5b9bd5" d="M378.9 132.5L382.2 138.8L375.6 138.8Z"/><path fill="#ff0000" d="M378.9 135.2L380.3 137.7L377.5 137.7Z"/>
<path fill="#5b9bd5" d="M424.5 96.1L427.8 102.4L421.2 102.4Z"/><path fill="#ff0000" d="M424.5 98.8L425.9 101.3L423.1 101.3Z"/>
<path fill="#5b9bd5" d="M353.7 151.8L357.0 158.1L350.4 158.1Z"/><path fill="#ff0000" d="M353.7 154.5L355.1 157.0L352.3 157.0Z"/>
<path fill="#5b9bd5" d="M386.0 127.8L389.3 134.1L382.7 134.1Z"/><path fill="#ff0000" d="M386.0 130.5L387.4 133.0L384.6 133.0Z"/>
<path fill="#5b9bd5" d="M387.7 125.9L391.0 132.2L384.4 132.2Z"/><path fill="#ff0000" d="M387.7 128.6L389.1 131.1L386.3 131.1Z"/>
<path fill="#5b9bd5" d="M309.7 188.3L313.0 194.6L306.4 194.6Z"/><path fill="#ff0000" d="M309.7 191.0L311.1 193.5L308.3 193.5Z"/>
<path fill="#5b9bd5" d="M257.5 228.5L260.8 234.8L254.2 234.8Z"/><path fill="#ff0000" d="M257.5 231.2L258.9 233.7L256.1 233.7Z"/>
<path fill="#5b9bd5" d="M271.1 217.1L274.4 223.4L267.8 223.4Z"/><path fill="#ff0000" d="M271.1 219.8L272.5 222.3L269.7 222.3Z"/>
<path fill="#5b9bd5" d="M259.4 226.9L262.7 233.2L256.1 233.2Z"/><path fill="#ff0000" d="M259.4 229.6L260.8 232.1L258.0 232.1Z"/>
<path fill="#5b9bd5" d="M379.8 130.9L383.1 137.2L376.5 137.2Z"/><path fill="#ff0000" d="M379.8 133.6L381.2 136.1L378.4 136.1Z"/>
<path fill="#5b9bd5" d="M267.3 223.5L270.6 229.8L264.0 229.8Z"/><path fill="#ff0000" d="M267.3 226.2L268.7 228.7L265.9 228.7Z"/>
<path fill="#5b9bd5" d="M342.2 160.5L345.5 166.8L338.9 166.8Z"/><path fill="#ff0000" d="M342.2 163.2L343.6 165.7L340.8 165.7Z"/>
<path fill="#5b9bd5" d="M395.1 120.6L398.4 126.9L391.8 126.9Z"/><path fill="#ff0000" d="M395.1 123.3L396.5 125.8L393.7 125.8Z"/>
<path fill="#5b9bd5" d="M339.8 162.0L343.1 168.3L336.5 168.3Z"/><path fill="#ff0000" d="M339.8 164.7L341.2 167.2L338.4 167.2Z"/>
<path fill="#5b9bd5" d="M343.5 158.3L346.8 164.6L340.2 164.6Z"/><path fill="#ff0000" d="M343.5 161.0L344.9 163.5L342.1 163.5Z"/>
<path fill="#5b9bd5" d="M255.7 232.3L259.0 238.6L252.4 238.6Z"/><path fill="#ff0000" d="M255.7 235.0L257.1 237.5L254.3 237.5Z"/>
<path fill="#5b9bd5" d="M265.7 225.4L269.0 231.7L262.4 231.7Z"/><path fill="#ff0000" d="M265.7 228.1L267.1 230.6L264.3 230.6Z"/>
<path fill="#5b9bd5" d="M288.7 205.0L292.0 211.3L285.4 211.3Z"/><path fill="#ff0000" d="M288.7 207.7L290.1 210.2L287.3 210.2Z"/>
<path fill="#5b9bd5" d="M246.5 238.2L249.8 244.5L243.2 244.5Z"/><path fill="#ff0000" d="M246.5 240.9L247.9 243.4L245.1 243.4Z"/>
<path fill="#5b9bd5" d="M354.9 151.8L358.2 158.1L351.6 158.1Z"/><path fill="#ff0000" d="M354.9 154.5L356.3 157.0L353.5 157.0Z"/>
<path fill="#5b9bd5" d="M404.6 111.4L407.9 117.7L401.3 117.7Z"/><path fill="#ff0000" d="M404.6 114.1L406.0 116.6L403.2 116.6Z"/>
<path fill="#5b9bd5" d="M290.3 205.1L293.6 211.4L287.0 211.4Z"/><path fill="#ff0000" d="M290.3 207.8L291.7 210.3L288.9 210.3Z"/>
<path fill="#5b9bd5" d="M274.4 216.1L277.7 222.4L271.1 222.4Z"/><path fill="#ff0000" d="M274.4 218.8L275.8 221.3L273.0 221.3Z"/>
<path fill="#5b9bd5" d="M253.7 230.0L257.0 236.3L250.4 236.3Z"/><path fill="#ff0000" d="M253.7 232.7L255.1 235.2L252.3 235.2Z"/>
<path fill="#5b9bd5" d="M256.2 229.3L259.5 235.6L252.9 235.6Z"/><path fill="#ff0000" d="M256.2 232.0L257.6 234.5L254.8 234.5Z"/>
<path fill="#5b9bd5" d="M281.6 208.1L284.9 214.4L278.3 214.4Z"/><path fill="#ff0000" d="M281.6 210.8L283.0 213.3L280.2 213.3Z"/>
<path fill="#5b9bd5" d="M386.2 127.5L389.5 133.8L382.9 133.8Z"/><path fill="#ff0000" d="M386.2 130.2L387.6 132.7L384.8 132.7Z"/>
<path fill="#5b9bd5" d="M443.2 83.1L446.5 89.4L439.9 89.4Z"/><path fill="#ff0000" d="M443.2 85.8L444.6 88.3L441.8 88.3Z"/>
<path fill="#5b9bd5" d="M409.0 108.7L412.3 115.0L405.7 115.0Z"/><path fill="#ff0000" d="M409.0 111.4L410.4 113.9L407.6 113.9Z"/>
<path fill="#5b9bd5" d="M402.3 114.6L405.6 120.9L399.0 120.9Z"/><path fill="#ff0000" d="M402.3 117.3L403.7 119.8L400.9 119.8Z"/>
<path fill="#5b9bd5" d="M349.2 155.7L352.5 162.0L345.9 162.0Z"/><path fill="#ff0000" d="M349.2 158.4L350.6 160.9L347.8 160.9Z"/>
<path fill="#5b9bd5" d="M363.8 141.8L367.1 148.1L360.5 148.1Z"/><path fill="#ff0000" d="M363.8 144.5L365.2 147.0L362.4 147.0Z"/>
<path fill="#5b9bd5" d="M324.6 176.3L327.9 182.6L321.3 182.6Z"/><path fill="#ff0000" d="M324.6 179.0L326.0 181.5L323.2 181.5Z"/>
<path fill="#5b9bd5" d="M394.4 120.5L397.7 126.8L391.1 126.8Z"/><path fill="#ff0000" d="M394.4 123.2L395.8 125.7L393.0 125.7Z"/>
<path fill="#5b9bd5" d="M260.9 228.4L264.2 234.7L257.6 234.7Z"/><path fill="#ff0000" d="M260.9 231.1L262.3 233.6L259.5 233.6Z"/>
<path fill="#5b9bd5" d="M253.4 232.0L256.7 238.3L250.1 238.3Z"/><path fill="#ff0000" d="M253.4 234.7L254.8 237.2L252.0 237.2Z"/>
<path fill="#5b9bd5" d="M406.8 110.1L410.1 116.4L403.5 116.4Z"/><path fill="#ff0000" d="M406.8 112.8L408.2 115.3L405.4 115.3Z"/>
<path fill="#5b9bd5" d="M371.8 141.2L375.1 147.5L368.5 147.5Z"/><path fill="#ff0000" d="M371.8 143.9L373.2 146.4L370.4 146.4Z"/>
<path fill="#5b9bd5" d="M412.2 104.6L415.5 110.9L408.9 110.9Z"/><path fill="#ff0000" d="M412.2 107.3L413.6 109.8L410.8 109.8Z"/>
<path fill="#5b9bd5" d="M408.6 108.7L411.9 115.0L405.3 115.0Z"/><path fill="#ff0000" d="M408.6 111.4L410.0 113.9L407.2 113.9Z"/>
<path fill="#5b9bd5" d="M244.7 237.7L248.0 244.0L241.4 244.0Z"/><path fill="#ff0000" d="M244.7 240.4L246.1 242.9L243.3 242.9Z"/>
<path fill="#5b9bd5" d="M242.9 242.6L246.2 248.9L239.6 248.9Z"/><path fill="#ff0000" d="M242.9 245.3L244.3 247.8L241.5 247.8Z"/>
<path fill="#5b9bd5" d="M337.9 166.8L341.2 173.1L334.6 173.1Z"/><path fill="#ff0000" d="M337.9 169.5L339.3 172.0L336.5 172.0Z"/>
<path fill="#5b9bd5" d="M337.1 169.2L340.4 175.5L333.8 175.5Z"/><path fill="#ff0000" d="M337.1 171.9L338.5 174.4L335.7 174.4Z"/>
<path fill="#5b9bd5" d="M297.5 197.4L300.8 203.7L294.2 203.7Z"/><path fill="#ff0000" d="M297.5 200.1L298.9 202.6L296.1 202.6Z"/>
<path fill="#5b9bd5" d="M399.8 113.7L403.1 120.0L396.5 120.0Z"/><path fill="#ff0000" d="M399.8 116.4L401.2 118.9L398.4 118.9Z"/>
<path fill="#5b9bd5" d="M348.0 159.7L351.3 166.0L344.7 166.0Z"/><path fill="#ff0000" d="M348.0 162.4L349.4 164.9L346.6 164.9Z"/>
<path fill="#5b9bd5" d="M345.1 160.3L348.4 166.6L341.8 166.6Z"/><path fill="#ff0000" d="M345.1 163.0L346.5 165.5L343.7 165.5Z"/>
<path fill="#5b9bd5" d="M295.7 196.9L299.0 203.2L292.4 203.2Z"/><path fill="#ff0000" d="M295.7 199.6L297.1 202.1L294.3 202.1Z"/>
<path fill="#5b9bd5" d="M399.0 116.2L402.3 122.5L395.7 122.5Z"/><path fill="#ff0000" d="M399.0 118.9L400.4 121.4L397.6 121.4Z"/>
<path fill="#5b9bd5" d="M389.8 122.8L393.1 129.1L386.5 129.1Z"/><path fill="#ff0000" d="M389.8 125.5L391.2 128.0L388.4 128.0Z"/>
<path fill="#5b9bd5" d="M427.7 94.7L431.0 101.0L424.4 101.0Z"/><path fill="#ff0000" d="M427.7 97.4L429.1 99.9L426.3 99.9Z"/>
<path fill="#5b9bd5" d="M282.0 208.9L285.3 215.2L278.7 215.2Z"/><path fill="#ff0000" d="M282.0 211.6L283.4 214.1L280.6 214.1Z"/>
<path fill="#5b9bd5" d="M390.5 123.3L393.8 129.6L387.2 129.6Z"/><path fill="#ff0000" d="M390.5 126.0L391.9 128.5L389.1 128.5Z"/>
<path fill="#5b9bd5" d="M382.8 130.2L386.1 136.5L379.5 136.5Z"/><path fill="#ff0000" d="M382.8 132.9L384.2 135.4L381.4 135.4Z"/>
<path fill="#5b9bd5" d="M250.2 234.7L253.5 241.0L246.9 241.0Z"/><path fill="#ff0000" d="M250.2 237.4L251.6 239.9L248.8 239.9Z"/>
<path fill="#5b9bd5" d="M287.9 205.1L291.2 211.4L284.6 211.4Z"/><path fill="#ff0000" d="M287.9 207.8L289.3 210.3L286.5 210.3Z"/>
<path fill="#5b9bd5" d="M417.3 102.0L420.6 108.3L414.0 108.3Z"/><path fill="#ff0000" d="M417.3 104.7L418.7 107.2L415.9 107.2Z"/>
<path fill="#5b9bd5" d="M380.2 131.0L383.5 137.3L376.9 137.3Z"/><path fill="#ff0000" d="M380.2 133.7L381.6 136.2L378.8 136.2Z"/>
<path fill="#5b9bd5" d="M251.0 238.6L254.3 244.9L247.7 244.9Z"/><path fill="#ff0000" d="M251.0 241.3L252.4 243.8L249.6 243.8Z"/>
<path fill="#5b9bd5" d="M422.0 97.8L425.3 104.1L418.7 104.1Z"/><path fill="#ff0000" d="M422.0 100.5L423.4 103.0L420.6 103.0Z"/>
<path fill="#5b9bd5" d="M335.4 165.5L338.7 171.8L332.1 171.8Z"/><path fill="#ff0000" d="M335.4 168.2L336.8 170.7L334.0 170.7Z"/>
<path fill="#5b9bd5" d="M319.7 182.6L323.0 188.9L316.4 188.9Z"/><path fill="#ff0000" d="M319.7 185.3L321.1 187.8L318.3 187.8Z"/>
<path fill="#5b9bd5" d="M326.4 174.1L329.7 180.4L323.1 180.4Z"/><path fill="#ff0000" d="M326.4 176.8L327.8 179.3L325.0 179.3Z"/>
<path fill="#5b9bd5" d="M278.9 213.5L282.2 219.8L275.6 219.8Z"/><path fill="#ff0000" d="M278.9 216.2L280.3 218.7L277.5 218.7Z"/>
<path fill="#5b9bd5" d="M432.1 89.5L435.4 95.8L428.8 95.8Z"/><path fill="#ff0000" d="M432.1 92.2L433.5 94.7L430.7 94.7Z"/>
<path fill="#5b9bd5" d="M418.5 101.6L421.8 107.9L415.2 107.9Z"/><path fill="#ff0000" d="M418.5 104.3L419.9 106.8L417.1 106.8Z"/>
<path fill="#5b9bd5" d="M305.1 189.9L308.4 196.2L301.8 196.2Z"/><path fill="#ff0000" d="M305.1 192.6L306.5 195.1L303.7 195.1Z"/>
<path fill="#5b9bd5" d="M277.8 212.4L281.1 218.7L274.5 218.7Z"/><path fill="#ff0000" d="M277.8 215.1L279.2 217.6L276.4 217.6Z"/>
<path fill="#5b9bd5" d="M324.4 177.0L327.7 183.3L321.1 183.3Z"/><path fill="#ff0000" d="M324.4 179.7L325.8 182.2L323.0 182.2Z"/>
<path fill="#5b9bd5" d="M365.9 144.3L369.2 150.6L362.6 150.6Z"/><path fill="#ff0000" d="M365.9 147.0L367.3 149.5L364.5 149.5Z"/>
<path fill="#5b9bd5" d="M429.5 91.4L432.8 97.7L426.2 97.7Z"/><path fill="#ff0000" d="M429.5 94.1L430.9 96.6L428.1 96.6Z"/>
<path fill="#5b9bd5" d="M279.7 212.6L283.0 218.9L276.4 218.9Z"/><path fill="#ff0000" d="M279.7 215.3L281.1 217.8L278.3 217.8Z"/>
<path fill="#5b9bd5" d="M438.6 85.9L441.9 92.2L435.3 92.2Z"/><path fill="#ff0000" d="M438.6 88.6L440.0 91.1L437.2 91.1Z"/>
<path fill="#5b9bd5" d="M241.9 242.8L245.2 249.1L238.6 249.1Z"/><path fill="#ff0000" d="M241.9 245.5L243.3 248.0L240.5 248.0Z"/>
<path fill="#5b9bd5" d="M393.2 121.8L396.5 128.1L389.9 128.1Z"/><path fill="#ff0000" d="M393.2 124.5L394.6 127.0L391.8 127.0Z"/>
<path fill="#5b9bd5" d="M303.8 192.7L307.1 199.0L300.5 199.0Z"/><path fill="#ff0000" d="M303.8 195.4L305.2 197.9L302.4 197.9Z"/>
<path fill="#5b9bd5" d="M441.6 84.1L444.9 90.4L438.3 90.4Z"/><path fill="#ff0000" d="M441.6 86.8L443.0 89.3L440.2 89.3Z"/>
<path fill="#5b9bd5" d="M261.7 227.0L265.0 233.3L258.4 233.3Z"/><path fill="#ff0000" d="M261.7 229.7L263.1 232.2L260.3 232.2Z"/>
<path fill="#5b9bd5" d="M322.1 176.1L325.4 182.4L318.8 182.4Z"/><path fill="#ff0000" d="M322.1 178.8L323.5 181.3L320.7 181.3Z"/>
<path fill="#5b9bd5" d="M435.0 87.8L438.3 94.1L431.7 94.1Z"/><path fill="#ff0000" d="M435.0 90.5L436.4 93.0L433.6 93.0Z"/>
<path fill="#5b9bd5" d="M355.6 151.0L358.9 157.3L352.3 157.3Z"/><path fill="#ff0000" d="M355.6 153.7L357.0 156.2L354.2 156.2Z"/>
<path fill="#5b9bd5" d="M446.8 75.8L450.1 82.1L443.5 82.1Z"/><path fill="#ff0000" d="M446.8 78.5L448.2 81.0L445.4 81.0Z"/>
<path fill="#5b9bd5" d="M410.2 107.0L413.5 113.3L406.9 113.3Z"/><path fill="#ff0000" d="M410.2 109.7L411.6 112.2L408.8 112.2Z"/>
<path fill="#5b9bd5" d="M439.6 84.1L442.9 90.4L436.3 90.4Z"/><path fill="#ff0000" d="M439.6 86.8L441.0 89.3L438.2 89.3Z"/>
<path fill="#5b9bd5" d="M366.5 141.1L369.8 147.4L363.2 147.4Z"/><path fill="#ff0000" d="M366.5 143.8L367.9 146.3L365.1 146.3Z"/>
<path fill="#5b9bd5" d="M398.4 117.6L401.7 123.9L395.1 123.9Z"/><path fill="#ff0000" d="M398.4 120.3L399.8 122.8L397.0 122.8Z"/>
<path fill="#5b9bd5" d="M273.0 215.1L276.3 221.4L269.7 221.4Z"/><path fill="#ff0000" d="M273.0 217.8L274.4 220.3L271.6 220.3Z"/>
<path fill="#5b9bd5" d="M381.7 128.7L385.0 135.0L378.4 135.0Z"/><path fill="#ff0000" d="M381.7 131.4L383.1 133.9L380.3 133.9Z"/>
<path fill="#5b9bd5" d="M243.6 239.7L246.9 246.0L240.3 246.0Z"/><path fill="#ff0000" d="M243.6 242.4L245.0 244.9L242.2 244.9Z"/>
<path fill="#5b9bd5" d="M348.9 158.2L352.2 164.5L345.6 164.5Z"/><path fill="#ff0000" d="M348.9 160.9L350.3 163.4L347.5 163.4Z"/>
</g>
<line x1="116.3" y1="345.6" x2="520.5" y2="22.4" stroke="#000" stroke-width="1.35"/>
<path d="M116.3 22.4H520.5V345.6H116.3Z" fill="none" stroke="#000" stroke-width="2"/>
<path d="M116.30 345.6v8 M116.3 345.60h-8 M174.04 345.6v8 M116.3 299.43h-8 M231.79 345.6v8 M116.3 253.26h-8 M289.53 345.6v8 M116.3 207.09h-8 M347.27 345.6v8 M116.3 160.91h-8 M405.01 345.6v8 M116.3 114.74h-8 M462.76 345.6v8 M116.3 68.57h-8 M520.50 345.6v8 M116.3 22.40h-8" stroke="#000" stroke-width="1.7" fill="none"/>
<g font-family="Liberation Serif, serif" font-size="27" fill="#000" stroke="#000" stroke-width="0.25"><text x="116.30" y="385.8" text-anchor="middle">270</text><text x="92.8" y="354.60" text-anchor="end">270</text><text x="174.04" y="385.8" text-anchor="middle">275</text><text x="92.8" y="308.43" text-anchor="end">275</text><text x="231.79" y="385.8" text-anchor="middle">280</text><text x="92.8" y="262.26" text-anchor="end">280</text><text x="289.53" y="385.8" text-anchor="middle">285</text><text x="92.8" y="216.09" text-anchor="end">285</text><text x="347.27" y="385.8" text-anchor="middle">290</text><text x="92.8" y="169.91" text-anchor="end">290</text><text x="405.01" y="385.8" text-anchor="middle">295</text><text x="92.8" y="123.74" text-anchor="end">295</text><text x="462.76" y="385.8" text-anchor="middle">300</text><text x="92.8" y="77.57" text-anchor="end">300</text><text x="520.50" y="385.8" text-anchor="middle">305</text><text x="92.8" y="31.40" text-anchor="end">305</text><text x="137.2" y="425.8">Experimental value (K)</text><text transform="translate(26.5 313) rotate(-90)">Predicted value (K)</text><text x="179.6" y="90">R² = 0.9994</text></g>
</svg></body></html>
